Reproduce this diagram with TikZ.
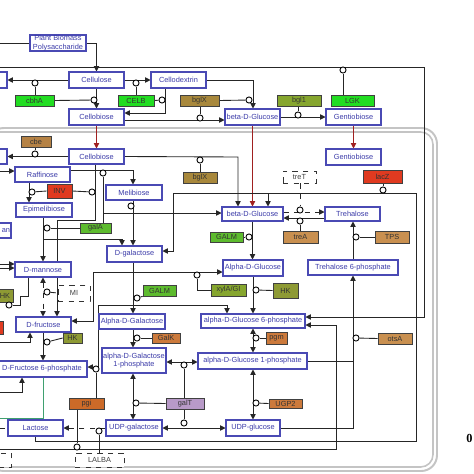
\documentclass[tikz,border=0pt]{standalone}
\usepackage{fontspec}
\setmainfont{Liberation Sans}
\newfontfamily\serifb{Liberation Serif}
\usetikzlibrary{arrows.meta}
\definecolor{cpdc}{HTML}{4A4AB4}
\definecolor{cpdt}{HTML}{3A3AA8}
\definecolor{gbright}{HTML}{22DD22}
\definecolor{gmid}{HTML}{5DBB2E}
\definecolor{golive}{HTML}{86A62E}
\definecolor{khaki}{HTML}{A8883C}
\definecolor{tan}{HTML}{C99050}
\definecolor{brn}{HTML}{B58245}
\definecolor{orng}{HTML}{CC7A3C}
\definecolor{pgic}{HTML}{CC6A28}
\definecolor{redz}{HTML}{E03A20}
\definecolor{lilac}{HTML}{B89AC8}
\definecolor{hkc}{HTML}{8E9A34}
\definecolor{darkr}{HTML}{A02020}
\definecolor{teal}{HTML}{3FA070}
\definecolor{framec}{HTML}{C4C4C4}
\pgfdeclarelayer{bg}
\pgfsetlayers{bg,main}
\tikzset{
  cpd/.style={draw=cpdc, fill=white, text=cpdt, line width=0.6pt, inner sep=0pt,
    font=\fontsize{4.2}{4.7}\selectfont, align=center},
  enz/.style={draw=black!75, line width=0.4pt, inner sep=0pt, text=black!80,
    font=\fontsize{4.2}{4.7}\selectfont},
  denz/.style={draw=black!80, dashed, fill=white, line width=0.5pt, inner sep=0pt, text=black!75,
    font=\fontsize{4.2}{4.7}\selectfont},
  cir/.style={circle, draw=black, fill=white, line width=0.5pt, inner sep=0pt, minimum size=3.5pt},
  ln/.style={line width=0.5pt, draw=black!85},
  ar/.style={ln, -{Triangle[length=3pt,width=3pt]}},
  bar/.style={ln, {Triangle[length=3pt,width=3pt]}-{Triangle[length=3pt,width=3pt]}},
  rar/.style={line width=0.5pt, draw=darkr, -{Triangle[length=3pt,width=3pt]}},
}
\newcommand\mkcpd[6]{\node[cpd,minimum width={(#4-#2)*0.569pt},minimum height={(#5-#3)*0.569pt}] (#1) at ({(#2+#4)/2},{(#3+#5)/2}) {#6};}
\newcommand\mkenz[7]{\node[enz,fill=#6,minimum width={(#4-#2)*0.569pt},minimum height={(#5-#3)*0.569pt}] (#1) at ({(#2+#4)/2},{(#3+#5)/2}) {#7};}
\newcommand\mkdenz[6]{\node[denz,minimum width={(#4-#2)*0.569pt},minimum height={(#5-#3)*0.569pt}] (#1) at ({(#2+#4)/2},{(#3+#5)/2}) {#6};}
\begin{document}
\begin{tikzpicture}[x=0.02cm,y=-0.02cm]
\useasboundingbox (0,0) rectangle (474,474);
% compounds
\mkcpd{PB}{30}{35}{86}{51}{Plant Biomass\\Polysaccharide}
\mkcpd{Cel}{69}{72}{124}{88}{Cellulose}
\mkcpd{L1}{-10}{72}{7}{88}{}
\mkcpd{Cd}{151}{72}{206}{88}{Cellodextrin}
\mkcpd{Cb1}{69}{109}{124}{125}{Cellobiose}
\mkcpd{bDG1}{225}{109}{280}{125}{beta-D-Glucose}
\mkcpd{Gb1}{326}{109}{381}{125}{Gentiobiose}
\mkcpd{Cb2}{69}{149}{124}{164}{Cellobiose}
\mkcpd{L2}{-10}{149}{7}{164}{}
\mkcpd{Gb2}{326}{149}{381}{165}{Gentiobiose}
\mkcpd{Raf}{15}{167}{70}{182}{Raffinose}
\mkcpd{Mel}{106}{185}{162}{200}{Melibiose}
\mkcpd{Epi}{16}{203}{72}{217}{Epimelibiose}
\node[cpd,minimum width={31*0.569pt},minimum height={15*0.569pt},text width={29*0.569pt},align=right] (Man) at (-4.5,230.5) {an};
\mkcpd{bDG2}{222}{207}{283}{221}{beta-D-Glucose}
\mkcpd{Tre}{325}{207}{380}{221}{Trehalose}
\mkcpd{DMan}{15}{262}{71}{277}{D-mannose}
\mkcpd{DGal}{107}{246}{162}{262}{D-galactose}
\mkcpd{aDG}{223}{260}{283}{276}{Alpha-D-Glucose}
\mkcpd{T6P}{308}{260}{398}{275}{Trehalose 6-phosphate}
\mkcpd{DFru}{16}{317}{71}{332}{D-fructose}
\mkcpd{aDGal}{99}{314}{165}{329}{Alpha-D-Galactose}
\mkcpd{G6P}{201}{314}{305}{328}{alpha-D-Glucose 6-phosphate}
\mkcpd{F6P}{-3}{361}{87}{377}{D-Fructose 6-phosphate}
\mkcpd{aGal1P}{102}{348}{166}{373}{alpha-D-Galactose\\1-phosphate}
\mkcpd{G1P}{198}{353}{307}{369}{alpha-D-Glucose 1-phosphate}
\mkcpd{Lac}{8}{420}{63}{436}{Lactose}
\mkcpd{UDPgal}{106}{420}{162}{436}{UDP-galactose}
\mkcpd{UDPglc}{226}{420}{280}{436}{UDP-glucose}
% enzymes
\mkenz{cbhA}{15}{95}{54}{106}{gbright}{cbhA}
\mkenz{CELB}{118}{95}{154}{106}{gbright}{CELB}
\mkenz{bglXa}{180}{95}{219}{106}{khaki}{bglX}
\mkenz{bgl1}{277}{95}{321}{106}{golive}{bgl1}
\mkenz{LGK}{331}{95}{374}{106}{gbright}{LGK}
\mkenz{cbe}{21}{136}{51}{147}{brn}{cbe}
\mkenz{bglXb}{183}{172}{217}{183}{khaki}{bglX}
\mkenz{INV}{47}{184}{72}{198}{redz}{INV}
\mkenz{galA}{80}{223}{111}{233}{gmid}{galA}
\mkdenz{treT}{283}{171}{316}{183}{treT}
\mkenz{lacZ}{363}{170}{402}{183}{redz}{lacZ}
\mkenz{GALMa}{210}{232}{243}{242}{gmid}{GALM}
\mkenz{treA}{283}{231}{318}{243}{tan}{treA}
\mkenz{TPS}{375}{231}{409}{243}{tan}{TPS}
\mkenz{HKa}{-3}{289}{13}{302}{hkc}{HK}
\mkdenz{MI}{58}{285}{90}{301}{MI}
\mkenz{GALMb}{143}{285}{176}{296}{gmid}{GALM}
\mkenz{xyl}{211}{284}{246}{296}{golive}{xylA/GI}
\mkenz{HKb}{273}{283}{298}{298}{hkc}{HK}
\mkenz{HKc}{63}{333}{82}{343}{hkc}{HK}
\mkenz{RedL}{-12}{321}{3}{334}{redz}{}
\mkenz{GalK}{152}{333}{180}{343}{orng}{GalK}
\mkenz{pgm}{266}{332}{287}{344}{orng}{pgm}
\mkenz{otsA}{378}{333}{412}{344}{tan}{otsA}
\mkenz{pgi}{69}{398}{104}{409}{pgic}{pgi}
\mkenz{galT}{166}{398}{204}{409}{lilac}{galT}
\mkenz{UGP2}{269}{399}{302}{408}{orng}{UGP2}
\mkdenz{LALBA}{75}{453}{124}{467}{LALBA}
\mkdenz{DL}{-12}{453}{11}{467}{}
\node[font=\serifb\bfseries\fontsize{7}{8}\selectfont, anchor=west, inner sep=0pt] (zero) at (466,438) {0};
% circles
\node[cir] (c1) at (35,83) {};
\node[cir] (c2) at (94,100) {};
\node[cir] (c3) at (136,83) {};
\node[cir] (c4) at (162,100) {};
\node[cir] (c5) at (249,100) {};
\node[cir] (c6) at (200,118) {};
\node[cir] (c7) at (298,115) {};
\node[cir] (c8) at (343,70) {};
\node[cir] (c9) at (35,154) {};
\node[cir] (c10) at (200,160) {};
\node[cir] (c11) at (103,173) {};
\node[cir] (c12) at (32,192) {};
\node[cir] (c13) at (92,192) {};
\node[cir] (c14) at (47,228) {};
\node[cir] (c15) at (131,206) {};
\node[cir] (c16) at (383,190) {};
\node[cir] (c17) at (300,210) {};
\node[cir] (c18) at (300,221) {};
\node[cir] (c19) at (356,237) {};
\node[cir] (c20) at (356,338) {};
\node[cir] (c21) at (77,447) {};
\node[cir] (c22) at (249,237) {};
\node[cir] (c23) at (256,290) {};
\node[cir] (c24) at (197,275) {};
\node[cir] (c25) at (96,369) {};
\node[cir] (c26) at (137,298) {};
\node[cir] (c27) at (137,338) {};
\node[cir] (c28) at (136,403) {};
\node[cir] (c29) at (184,365) {};
\node[cir] (c30) at (184,423) {};
\node[cir] (c31) at (256,338) {};
\node[cir] (c32) at (256,403) {};
\node[cir] (c33) at (99,431) {};
\node[cir] (c34) at (47,342) {};
\node[cir] (c35) at (47,292) {};
\node[cir] (c36) at (9,305) {};
\begin{pgfonlayer}{bg}
\fill[white] (0,0) rectangle (474,474);
% frame
\draw[framec, line width=1.1pt, rounded corners=9] (-12,128) rectangle (437,471);
\draw[framec!80!black!60, line width=0.9pt, rounded corners=7] (-12,132) rectangle (433,467);
% top section
\draw[ln] (0,43) -- (PB.west);
\draw[ar] (PB.east) -| (Cel.north);
\draw[ar] (0,67) -- (424,67) -- (424,317) -- (G6P.east |- 0,317);
\draw[ar] (Cel.west) -- (L1.east);
\draw[ln] (cbhA.north -| c1) -- (c1);
\draw[ar] (Cel.south) -- (Cb1.north);
\draw[ln] (cbhA.east) -- (c2);
\draw[ar] (Cel.east) -- (Cd.west);
\draw[ln] (CELB.north -| c3) -- (c3);
\draw[ar] (Cd.south -| 165,0) -- (165,113) -- (Cb1.east |- 0,113);
\draw[ln] (CELB.east) -- (c4);
\draw[ar] (Cd.east) -- (253,80) -- (bDG1.north -| 253,0);
\draw[ln] (bglXa.east) -- (c5);
\draw[ar] (Cb1.east |- 0,120) -- (bDG1.west |- 0,120);
\draw[ln] (bglXa.south -| c6) -- (c6);
\draw[ar] (bDG1.east) -- (Gb1.west);
\draw[ln] (bgl1.south -| c7) -- (c7);
\draw[ln] (LGK.north -| c8) -- (c8);
\draw[rar] (Cb1.south) -- (Cb2.north);
\draw[rar] (bDG1.south) -- (bDG2.north -| bDG1.south);
\draw[rar] (Gb1.south) -- (Gb2.north);
% middle section
\draw[ar] (Cb2.west) -- (L2.east);
\draw[ln] (cbe.south -| c9) -- (c9);
\draw[ar] (Cb2.east) -- (238,157) -- (bDG2.north -| 238,0);
\draw[ln] (bglXb.north -| c10) -- (c10);
\draw[ar] (0,171) -- (Raf.west |- 0,171);
\draw[ar] (Raf.east |- 0,170) -- (133,170) -- (Mel.north -| 133,0);
\draw[ar] (Raf.south -| 29,0) -- (Epi.north -| 29,0);
\draw[ln] (INV.west) -- (c12);
\draw[ar] (Cb2.south -| 95,0) -- (95,220) -- (57,220) -- (DFru.north -| 57,0);
\draw[ln] (INV.east) -- (c13);
\draw[ln] (galA.north -| c11) -- (c11);
\draw[ar] (Epi.south -| 43,0) -- (DMan.north -| 43,0);
\draw[ln] (galA.west) -- (c14);
\draw[ar] (43,239) -- (122,239) -- (DGal.north -| 122,0);
\draw[ar] (Mel.south -| 133,0) -- (DGal.north -| 133,0);
\draw[ar] (103,213) -- (bDG2.west |- 0,213);
\draw[ar] (Lac.south -| 35,0) -- (35,441) -- (416,441) -- (416,193) -- (173,193) -- (173,251) -- (DGal.east |- 0,251);
\draw[ar] (268,193) -- (bDG2.north -| 268,0);
\draw[ln] (lacZ.south -| c16) -- (c16);
\draw[ar, dashed] (bDG2.east |- 0,212) -- (Tre.west |- 0,212);
\draw[ar] (Tre.west |- 0,218) -- (bDG2.east |- 0,218);
\draw[ln, dashed] (treT.south -| c17) -- (c17);
\draw[ln] (treA.north -| c18) -- (c18);
\draw[ar] (T6P.north -| 353,0) -- (Tre.south -| 353,0);
\draw[ln] (TPS.west) -- (c19);
\draw[ar] (UDPglc.east |- 0,428) -- (353,428) -- (T6P.south -| 353,0);
\draw[ln] (G1P.east |- 0,361) -- (353,361);
\draw[ln] (otsA.west) -- (c20);
\draw[ar] (0,449) -- (336,449) -- (336,325) -- (G6P.east |- 0,325);
\draw[ln] (pgi.south -| c21) -- (c21);
\draw[ar] (bDG2.south) -- (aDG.north -| bDG2.south);
\draw[ln] (GALMa.east) -- (c22);
\draw[ar] (aDG.south -| 253,0) -- (G6P.north -| 253,0);
\draw[ln] (HKb.west) -- (c23);
\draw[bar] (aDG.west |- 0,272) -- (93,272) -- (93,321) -- (DFru.east |- 0,321);
\draw[ln] (c24) -- (197,290) -- (xyl.west |- 0,290);
\draw[bar] (F6P.east |- 0,367) -- (98,367) -- (98,305) -- (227,305) -- (G6P.north -| 227,0);
\draw[ln] (pgi.north -| c25) -- (c25);
\draw[ar] (DGal.south -| 133,0) -- (aDGal.north -| 133,0);
\draw[ln] (c26) -- (GALMb.south west);
\draw[ar] (aDGal.south -| 133,0) -- (aGal1P.north -| 133,0);
\draw[ln] (GalK.west) -- (c27);
\draw[bar] (aGal1P.south -| 133,0) -- (UDPgal.north -| 133,0);
\draw[ln] (c28) -- (galT.west);
\draw[bar] (aGal1P.east |- 0,362) -- (G1P.west |- 0,362);
\draw[ln] (c29) -- (c30);
\draw[bar] (UDPgal.east) -- (UDPglc.west);
\draw[bar] (G6P.south -| 253,0) -- (G1P.north -| 253,0);
\draw[ln] (pgm.west) -- (c31);
\draw[bar] (G1P.south -| 253,0) -- (UDPglc.north -| 253,0);
\draw[ln] (UGP2.west) -- (c32);
\draw[ar, dashed] (UDPgal.west) -- (Lac.east);
\draw[ln, dashed] (0,428) -- (Lac.west);
\draw[ln] (LALBA.north -| c33) -- (c33);
\draw[line width=0.5pt, teal] (F6P.south -| 43,0) -- (43,418) -- (0,418);
\draw[ar] (0,392) -- (22,392) -- (F6P.south -| 22,0);
\draw[ar] (DFru.south -| 43,0) -- (F6P.north -| 43,0);
\draw[ln] (HKc.west) -- (c34);
\draw[ar] (0,342) -- (30,342) -- (DFru.south -| 30,0);
\draw[bar, dashed] (DMan.south -| 43,0) -- (DFru.north -| 43,0);
\draw[ln, dashed] (c35) -- (MI.west);
\draw[ar] (0,264) -- (DMan.west |- 0,264);
\draw[ar] (0,268) -- (DMan.west |- 0,268);
\draw[ln] (DMan.south -| 28,0) -- (28,296) -- (20,296) -- (20,305) -- (c36);
\end{pgfonlayer}
\end{tikzpicture}
\end{document}
